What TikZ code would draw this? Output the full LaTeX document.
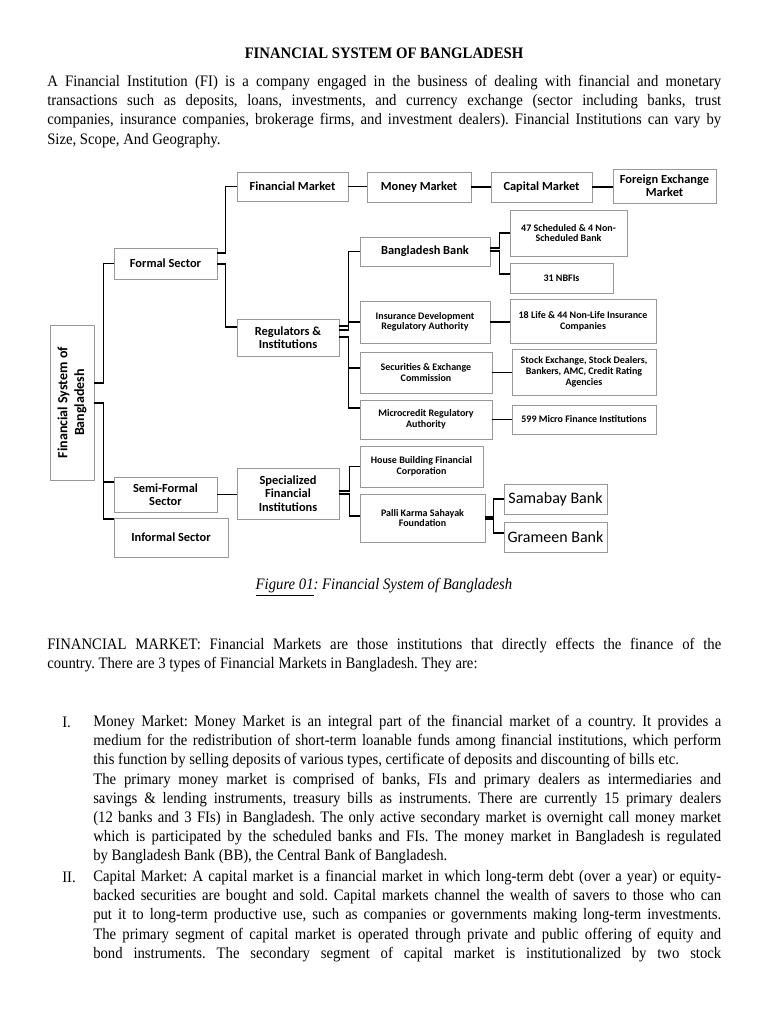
\documentclass[tikz,border=0pt]{standalone}
\usepackage{fontspec}
\setmainfont{Liberation Serif}[FakeStretch=0.92]
\newfontfamily\diafont{Carlito}
\setlength{\parindent}{0pt}
\frenchspacing

\begin{document}
\begin{tikzpicture}[x=0.75pt, y=-0.75pt,
	box/.style={draw=black!40, line width=0.6pt, inner sep=1pt, align=center,
		font=\diafont\bfseries\fontsize{9.3}{10}\selectfont},
	smallbox/.style={box, font=\diafont\bfseries\fontsize{7.5}{8}\selectfont},
	bigbox/.style={box, font=\diafont\fontsize{12}{14}\selectfont},
	sz/.style 2 args={minimum width=#1*0.75pt, minimum height=#2*0.75pt},
	link/.style={line width=0.9pt},
	txt/.style={inner sep=0pt, align=justify, font=\fontsize{12}{14.4}\selectfont},
	lbl/.style={inner sep=0pt, font=\fontsize{12}{14.4}\selectfont}]
	% Seitenformat
	\useasboundingbox (0,0) rectangle (768,1024);
	% Text oben
	\node[font=\bfseries\fontsize{12}{14.4}\selectfont] (title) at (384,53) {FINANCIAL SYSTEM OF BANGLADESH};
	\node[txt, text width=505.5pt, anchor=north west] (intro) at (47,75) {A Financial Institution (FI) is a company engaged in the business of dealing with financial and monetary\linebreak
		transactions such as deposits, loans, investments, and currency exchange (sector including banks, trust\linebreak
		companies, insurance companies, brokerage firms, and investment dealers). Financial Institutions can vary by\linebreak
		Size, Scope, And Geography.};
	% Stammknoten und Sektoren
	\node[box, rotate=90, sz={155}{44}, font=\diafont\bfseries\fontsize{10.5}{12.5}\selectfont] (fsb) at (72,402.5) {Financial System of\\Bangladesh};
	\node[box, sz={103}{31}] (formal) at (165.5,263.5) {Formal Sector};
	\node[box, sz={103}{35}] (semi) at (165.5,494.5) {Semi-Formal\\Sector};
	\node[box, sz={114}{39}] (informal) at (171,537.5) {Informal Sector};
	% Maerkte
	\node[box, sz={111}{29}] (finmkt) at (292.5,186.5) {Financial Market};
	\node[box, sz={104}{30}] (moneymkt) at (419,187) {Money Market};
	\node[box, sz={101}{30}] (capmkt) at (541.5,187) {Capital Market};
	\node[box, sz={103}{34}] (forex) at (664.5,186) {Foreign Exchange\\Market};
	% Regulatoren und Institute
	\node[box, sz={102}{37}] (reg) at (288,337.5) {Regulators \&\\Institutions};
	\node[box, sz={102}{51}] (spec) at (288,493.5) {Specialized\\Financial\\Institutions};
	\node[box, sz={130}{29}] (bb) at (425,251.5) {Bangladesh Bank};
	\node[smallbox, sz={130}{42}] (idra) at (425,322) {Insurance Development\\Regulatory Authority};
	\node[smallbox, sz={132}{41}] (sec) at (426,372.5) {Securities \& Exchange\\Commission};
	\node[smallbox, sz={132}{39}] (mra) at (426,419.5) {Microcredit Regulatory\\Authority};
	\node[smallbox, sz={123}{41}] (hbfc) at (421.5,466.5) {House Building Financial\\Corporation};
	\node[smallbox, sz={125}{48}] (pksf) at (422.5,518) {Palli Karma Sahayak\\Foundation};
	% Endknoten
	\node[smallbox, sz={117}{46}] (sched) at (568.5,233) {47 Scheduled \& 4 Non-\\Scheduled Bank};
	\node[smallbox, sz={103}{30}] (nbfi) at (561.5,278) {31 NBFIs};
	\node[smallbox, sz={146}{44}] (life) at (583,321) {18 Life \& 44 Non-Life Insurance\\Companies};
	\node[smallbox, sz={144}{46}] (stock) at (584,372) {Stock Exchange, Stock Dealers,\\Bankers, AMC, Credit Rating\\Agencies};
	\node[smallbox, sz={144}{29}] (micro) at (584,419.5) {599 Micro Finance Institutions};
	\node[bigbox, sz={103}{30}] (samabay) at (555.5,499) {Samabay Bank};
	\node[bigbox, sz={103}{30}] (grameen) at (555.5,537) {Grameen Bank};
	% Verbindungen
	\draw[link] (fsb.south) ++(0,-19.5) -- ++(9,0) |- (formal.west);
	\draw[link] (fsb.south) ++(0,0.5) -- ++(9,0) coordinate (fsbbus) |- ([yshift=13.9pt]informal.west);
	\draw[link] (fsbbus) |- ([yshift=9.4pt]semi.west);
	\draw[link] (formal.east) ++(0,-10.5) -- ++(8,0) |- (finmkt.west);
	\draw[link] (formal.east) ++(0,0.5) -- ++(8,0) |- ([yshift=7.9pt]reg.west);
	\foreach \a/\b in {finmkt/moneymkt, moneymkt/capmkt, capmkt/forex, idra/life, sec/stock, mra/micro, semi/spec}
		\draw[link] (\a.east) -- (\a.east -| \b.west);
	\draw[link] (reg.east) ++(0,-11.5) -- ++(9,0) |- (bb.west);
	\draw[link] (reg.east) ++(0,-7.5) -- ++(9,0) |- (idra.west);
	\draw[link] (reg.east) ++(0,-0.5) -- ++(9,0) coordinate (regbus) |- ([yshift=3.4pt]sec.west);
	\draw[link] (regbus) |- ([yshift=8.6pt]mra.west);
	\draw[link] (bb.east) ++(0,-3.5) -- ++(9,0) |- (sched.west);
	\draw[link] (bb.east) ++(0,-0.5) -- ++(9,0) |- ([yshift=3pt]nbfi.west);
	\draw[link] (spec.east) ++(0,-2.5) -- ++(10,0) |- (hbfc.west);
	\draw[link] (spec.east) ++(0,0.5) -- ++(10,0) |- ([yshift=1.5pt]pksf.west);
	\draw[link] (pksf.east) ++(0,-1) -- ++(8,0) |- (samabay.west);
	\draw[link] (pksf.east) ++(0,1) -- ++(8,0) |- ([yshift=3pt]grameen.west);
	% Bildunterschrift
	\node[font=\itshape\fontsize{12}{14.4}\selectfont] (caption) at (384,587) {\underline{Figure 01}: Financial System of Bangladesh};
	% Text unten
	\node[txt, text width=505.5pt, anchor=north west] (fmtext) at (47,638) {FINANCIAL MARKET: Financial Markets are those institutions that directly effects the finance of the\linebreak
		country. There are 3 types of Financial Markets in Bangladesh. They are:};
	\node[lbl, anchor=north west] (numI) at (62,716.5) {I.};
	\node[txt, text width=471pt, anchor=north west] (money) at (93,715) {Money Market: Money Market is an integral part of the financial market of a country. It provides a\linebreak
		medium for the redistribution of short-term loanable funds among financial institutions, which perform\linebreak
		this function by selling deposits of various types, certificate of deposits and discounting of bills etc.\par
		The primary money market is comprised of banks, FIs and primary dealers as intermediaries and\linebreak
		savings \& lending instruments, treasury bills as instruments. There are currently 15 primary dealers\linebreak
		(12 banks and 3 FIs) in Bangladesh. The only active secondary market is overnight call money market\linebreak
		which is participated by the scheduled banks and FIs. The money market in Bangladesh is regulated\linebreak
		by Bangladesh Bank (BB), the Central Bank of Bangladesh.};
	\node[lbl, anchor=north west] (numII) at (62,871.5) {II.};
	\node[txt, text width=471pt, anchor=north west] (capital) at (93,870) {Capital Market: A capital market is a financial market in which long-term debt (over a year) or equity-\linebreak
		backed securities are bought and sold. Capital markets channel the wealth of savers to those who can\linebreak
		put it to long-term productive use, such as companies or governments making long-term investments.\linebreak
		The primary segment of capital market is operated through private and public offering of equity and\linebreak
		bond instruments. The secondary segment of capital market is institutionalized by two stock{\parfillskip=0pt\par}};
\end{tikzpicture}
\end{document}
